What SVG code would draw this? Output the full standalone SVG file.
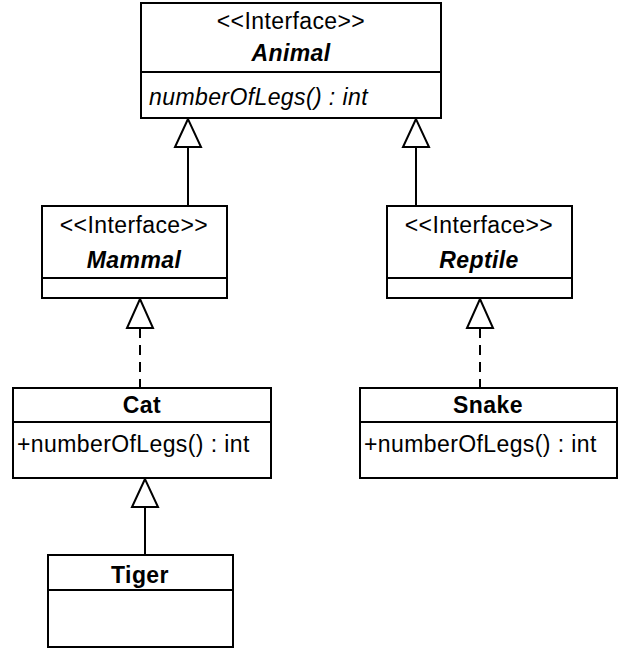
<svg xmlns="http://www.w3.org/2000/svg" width="637" height="653" viewBox="0 0 637 653">
<style>
rect,line{stroke:#000;stroke-width:2;fill:#fff}
text{font-family:"Liberation Sans",Arial,sans-serif;font-size:23px;letter-spacing:0.4px;fill:#000;text-anchor:middle}
.b{font-weight:bold}.i{font-style:italic}.l{text-anchor:start}
.tri{fill:#fff;stroke:#000;stroke-width:2}
.d{stroke-dasharray:10,7}
</style>
<rect width="637" height="653" style="fill:#fff;stroke:none"/>
<g id="connectors">
<line x1="188" y1="147" x2="188" y2="206"/><polygon class="tri" points="188,119 175,147 201,147"/>
<line x1="416" y1="147" x2="416" y2="206"/><polygon class="tri" points="416,119 403,147 429,147"/>
<line class="d" x1="140" y1="328" x2="140" y2="388"/><polygon class="tri" points="140,299 127,328 153,328"/>
<line class="d" x1="480" y1="328" x2="480" y2="388"/><polygon class="tri" points="480,299 467,328 493,328"/>
<line x1="145" y1="507" x2="145" y2="555"/><polygon class="tri" points="145,479 132,507 158,507"/>
</g>
<g id="Animal"><rect x="141" y="3" width="300" height="115"/><line x1="141" y1="72" x2="441" y2="72"/>
<text x="291" y="29">&lt;&lt;Interface&gt;&gt;</text><text class="b i" x="291" y="61">Animal</text>
<text class="i l" x="149" y="105">numberOfLegs() : int</text></g>
<g id="Mammal"><rect x="42" y="206" width="185" height="92"/><line x1="42" y1="278" x2="227" y2="278"/>
<text x="134" y="233">&lt;&lt;Interface&gt;&gt;</text><text class="b i" x="134" y="268">Mammal</text></g>
<g id="Reptile"><rect x="387" y="206" width="185" height="92"/><line x1="387" y1="278" x2="572" y2="278"/>
<text x="479" y="233">&lt;&lt;Interface&gt;&gt;</text><text class="b i" x="479" y="268">Reptile</text></g>
<g id="Cat"><rect x="13" y="388" width="258" height="90"/><line x1="13" y1="422" x2="271" y2="422"/>
<text class="b" x="142" y="413">Cat</text><text class="l" x="17" y="452">+numberOfLegs() : int</text></g>
<g id="Snake"><rect x="360" y="388" width="257" height="90"/><line x1="360" y1="422" x2="617" y2="422"/>
<text class="b" x="488" y="413">Snake</text><text class="l" x="364" y="452">+numberOfLegs() : int</text></g>
<g id="Tiger"><rect x="48" y="555" width="185" height="92"/><line x1="48" y1="590" x2="233" y2="590"/>
<text class="b" x="140" y="583">Tiger</text></g>
</svg>
